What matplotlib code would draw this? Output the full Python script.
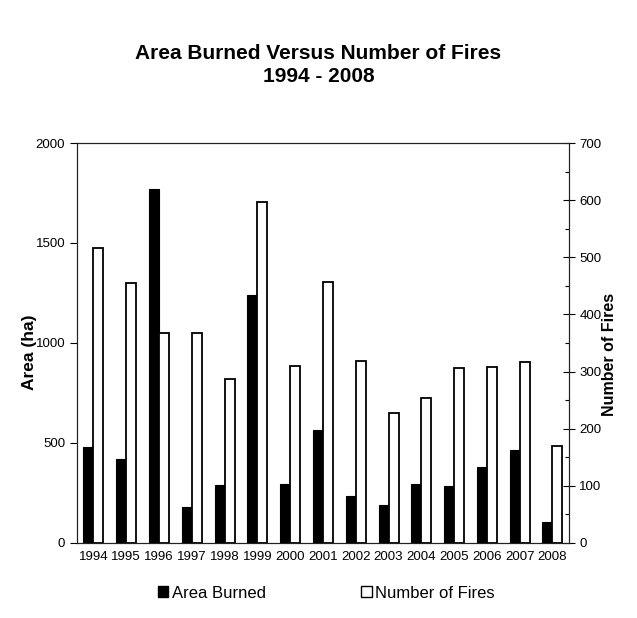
import numpy as np
import matplotlib.pyplot as plt
from matplotlib.patches import Patch
from matplotlib.ticker import MultipleLocator

plt.rcParams['font.family'] = ['Liberation Sans', 'DejaVu Sans']

years = ["1994", "1995", "1996", "1997", "1998", "1999", "2000", "2001",
         "2002", "2003", "2004", "2005", "2006", "2007", "2008"]
area_burned = [479, 421, 1772, 180, 290, 1238, 293, 566,
               236, 190, 293, 283, 379, 466, 107]
num_fires = [517, 455, 368, 368, 287, 596, 310, 457,
             318, 228, 254, 307, 308, 316, 169]

x = np.arange(len(years))
w = 0.305

fig = plt.figure(figsize=(6.37, 6.18), dpi=100)
ax = fig.add_axes([0.121, 0.1214, 0.772, 0.6472])
ax2 = ax.twinx()

ax.bar(x - w / 2, area_burned, w, color="black", edgecolor="black", linewidth=0.8, zorder=3)
ax2.bar(x + w / 2, num_fires, w, color="white", edgecolor="black", linewidth=1.3, zorder=3)

ax.set_xlim(-0.5, 14.5)
ax.set_ylim(0, 2000)
ax2.set_ylim(0, 700)
ax.set_yticks([0, 500, 1000, 1500, 2000])
ax2.yaxis.set_major_locator(MultipleLocator(100))
ax2.yaxis.set_minor_locator(MultipleLocator(50))

ax.set_xticks(x)
ax.set_xticklabels(years, fontsize=9.5)
ax.tick_params(axis="x", length=0, pad=6)
ax.tick_params(axis="y", direction="out", length=5, width=0.8, labelsize=9.5)
ax2.tick_params(axis="y", which="major", direction="inout", length=8, width=0.8, labelsize=9.5)
ax2.tick_params(axis="y", which="minor", direction="in", length=3, width=0.8)

for a in (ax, ax2):
    for s in a.spines.values():
        s.set_linewidth(0.8)
        s.set_color("#222222")

ax.set_ylabel("Area (ha)", fontsize=12.5, fontweight="bold")
ax.yaxis.set_label_coords(-0.082, 0.476)
ax2.set_ylabel("Number of Fires", fontsize=11.5, fontweight="bold")
ax2.yaxis.set_label_coords(1.068, 0.4725)

fig.text(0.5, 0.895, "Area Burned Versus Number of Fires\n1994 - 2008",
         ha="center", va="center", fontsize=15, fontweight="bold", linespacing=1.3)

handles = [Patch(facecolor="black", edgecolor="black"),
           Patch(facecolor="white", edgecolor="black")]
fig.legend(handles, ["Area Burned", "Number of Fires"], loc="center",
           bbox_to_anchor=(0.512, 0.04), ncol=2, frameon=False, fontsize=12,
           handlelength=0.65, handleheight=0.65, handletextpad=0.2, columnspacing=5.7)

fig.savefig("out.png", dpi=100)
